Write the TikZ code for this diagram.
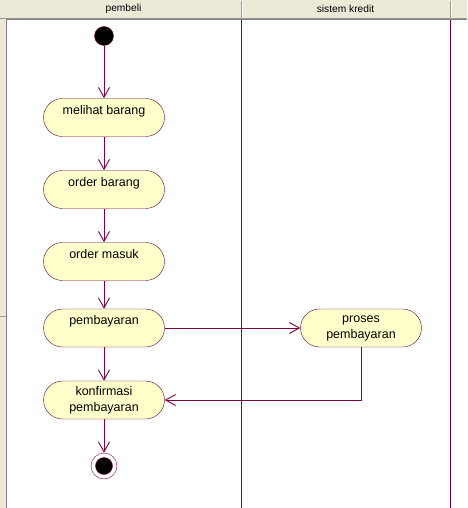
\documentclass[tikz,border=0pt]{standalone}
\usepackage{fontspec}
\setmainfont{Liberation Sans}
\usetikzlibrary{arrows.meta,positioning}
\definecolor{umlred}{HTML}{800040}
\definecolor{actfill}{HTML}{FFFFCC}
\definecolor{xpbeige}{HTML}{ECE9D8}
\definecolor{xpgray}{HTML}{9A9A90}
\tikzset{
    act/.style={draw=umlred!85!black, fill=actfill, rounded corners=19pt, minimum width=121pt,
        minimum height=38pt, inner sep=0pt, align=center, font=\fontsize{12.5}{16}\selectfont},
    oneline/.style={act, text depth=16pt},
    flow/.style={draw=umlred, line width=0.9pt, -{Straight Barb[length=10pt,width=11pt]}},
    lane/.style={draw=umlred, line width=0.9pt},
    hdr/.style={font=\fontsize{10.2}{12}\selectfont},
    dot/.style={circle, draw=umlred, fill=black, minimum size=19pt, inner sep=0pt},
}
\begin{document}
\begin{tikzpicture}[x=1pt,y=-1pt]
            \useasboundingbox (0,0) rectangle (467,508);
            \fill[white] (0,0) rectangle (467,508);
            \fill[xpbeige] (0,0) rectangle (5.5,508);
            \fill[xpbeige] (0,0) rectangle (467,18.5);
            \draw[xpgray, line width=1pt] (0,18.5) -- (467,18.5);
            \draw[gray, line width=1pt] (6,19.5) -- (467,19.5);
            \draw[gray, line width=1pt] (6,19) -- (6,508);
            \draw[xpgray, line width=0.8pt] (0,316) -- (5.5,316);
            \foreach \x in {241,450} {
                \draw[xpgray, line width=1pt] (\x,1) -- (\x,18);
                \draw[white, line width=1pt] (\x+1,1) -- (\x+1,18);
                \draw[lane] (\x,20) -- (\x,508);
            }

            \node[hdr] (hpembeli) at (123.5,9) {pembeli};
            \node[hdr] (hkredit) at (345.5,9) {sistem kredit};

            \node[dot] (start) at (104,36) {};
            \node[oneline] (melihat) at (104,117.5) {melihat barang};
            \node[oneline] (order) at (104,189.5) {order barang};
            \node[oneline] (masuk) at (104,261.5) {order masuk};
            \node[oneline] (bayar) at (104,328) {pembayaran};
            \node[act] (proses) at (361,328) {proses\\pembayaran};
            \node[act] (konfirmasi) at (104,400) {konfirmasi\\pembayaran};
            \node[circle, draw=umlred, fill=white, minimum size=26pt, inner sep=0pt] (end) at (104,466) {};
            \node[dot, minimum size=17pt] (endin) at (end) {};

            \draw[flow] (start) -- (melihat);
            \draw[flow] (melihat) -- (order);
            \draw[flow] (order) -- (masuk);
            \draw[flow] (masuk) -- (bayar);
            \draw[flow] (bayar) -- (proses);
            \draw[flow] (bayar) -- (konfirmasi);
            \draw[flow] (proses.south) |- (konfirmasi.east);
            \draw[flow] (konfirmasi) -- (end);
        \end{tikzpicture}
\end{document}
